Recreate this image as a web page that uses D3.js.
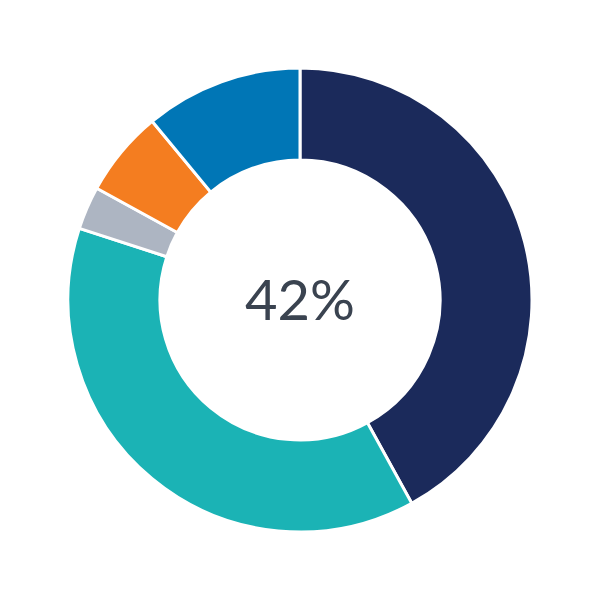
<!DOCTYPE html>
<html>
<head>
<meta charset="utf-8">
<script src="https://cdn.jsdelivr.net/npm/d3@7"></script>
<style>
  html, body { margin: 0; padding: 0; background: #fff; }
</style>
</head>
<body>
<div id="chart"></div>
<script>
// slice shares, clockwise from 12 o'clock
const categories = ["A", "B", "C", "D", "E"];
const values = [42, 38, 3, 6, 11];
const colors = ["#1b2a5b", "#1bb3b5", "#adb5c2", "#f47d20", "#0076b6"];
const centerLabel = "42%";

const width = 600, height = 600;
const outerR = 232, innerR = 140;

const svg = d3.select("#chart").append("svg")
  .attr("width", width)
  .attr("height", height);

const g = svg.append("g")
  .attr("transform", `translate(${width / 2}, ${height / 2})`);

const pie = d3.pie().sort(null).value(d => d.value);
const arc = d3.arc().innerRadius(innerR).outerRadius(outerR);

const data = categories.map((c, i) => ({ name: c, value: values[i] }));
const color = d3.scaleOrdinal().domain(categories).range(colors);

g.selectAll("path.slice")
  .data(pie(data))
  .join("path")
  .attr("class", "slice")
  .attr("d", arc)
  .attr("fill", d => color(d.data.name))
  .attr("stroke", "#fff")
  .attr("stroke-width", 3);

g.append("text")
  .attr("text-anchor", "middle")
  .attr("dy", "0.35em")
  .attr("font-family", "Lato, 'Open Sans', sans-serif")
  .attr("font-size", 56)
  .attr("fill", "#3a4350")
  .text(centerLabel);
</script>
</body>
</html>
